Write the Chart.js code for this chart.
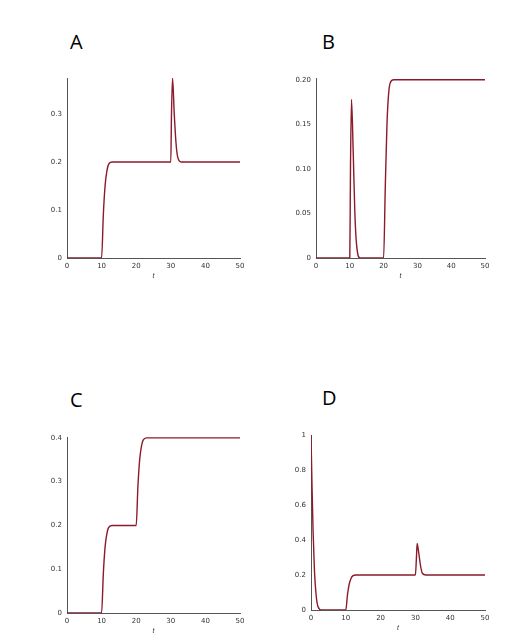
<!DOCTYPE html><html><head><meta charset="utf-8">
<script src="https://cdn.jsdelivr.net/npm/chart.js@4"></script>
<style>body{margin:0;background:#fff;width:524px;height:638px;position:relative;overflow:hidden;font-family:"DejaVu Sans",sans-serif}
canvas{position:absolute}.lbl{position:absolute;font-size:20px;color:#000;font-family:"Open Sans",sans-serif}</style></head><body>
<div class="lbl" style="left:70px;top:28px">A</div>
<div class="lbl" style="left:322px;top:28px">B</div>
<div class="lbl" style="left:70px;top:386px">C</div>
<div class="lbl" style="left:322px;top:384px">D</div>
<canvas id="cA" style="left:40px;top:70px;width:210px;height:210px"></canvas>
<canvas id="cB" style="left:290px;top:70px;width:205px;height:210px"></canvas>
<canvas id="cC" style="left:40px;top:428px;width:210px;height:207px"></canvas>
<canvas id="cD" style="left:285px;top:426px;width:210px;height:206px"></canvas>
<script>
const tA=[0,10,10.5,11,11.5,12,13,30,30.2,30.5,31,31.5,32,33,50];
const yA=[0,0,0.09,0.15,0.18,0.195,0.2,0.2,0.3,0.375,0.3,0.24,0.21,0.2,0.2];
const tB=[0,10,10.2,10.5,11,11.5,12,13,20,20.5,21,21.5,22,23,50];
const yB=[0,0,0.1,0.178,0.12,0.05,0.015,0,0,0.08,0.15,0.185,0.197,0.2,0.2];
const tC=[0,10,10.5,11,11.5,12,13,20,20.5,21,21.5,22,23,50];
const yC=[0,0,0.09,0.15,0.18,0.195,0.2,0.2,0.29,0.35,0.38,0.395,0.4,0.4];
const tD=[0,0.3,0.6,1,1.5,2,3,10,10.5,11,11.5,12,13,30,30.3,30.5,31,31.5,32,33,50];
const yD=[1,0.7,0.45,0.22,0.08,0.02,0,0,0.09,0.15,0.18,0.195,0.2,0.2,0.3,0.38,0.32,0.25,0.21,0.2,0.2];
const xTicks=[0,10,20,30,40,50];
const yTicksA=[0,0.1,0.2,0.3], yTicksB=[0,0.05,0.1,0.15,0.2], yTicksC=[0,0.1,0.2,0.3,0.4], yTicksD=[0,0.2,0.4,0.6,0.8,1];
function mk(id,t,y,ymax,yt,yw,top,right,fmt){
 const tf={size:7,family:"DejaVu Sans"};
 new Chart(document.getElementById(id),{type:'line',
  data:{datasets:[{data:t.map((v,i)=>({x:v,y:y[i]})),borderColor:'#8b1a2a',borderWidth:1.4,pointRadius:0,tension:0.3,cubicInterpolationMode:'monotone'}]},
  options:{responsive:false,animation:false,events:[],plugins:{legend:{display:false},tooltip:{enabled:false}},
   layout:{padding:{top:top,right:right,left:0,bottom:0}},
   scales:{
    x:{type:'linear',min:0,max:50,afterBuildTicks:a=>{a.ticks=xTicks.map(v=>({value:v}))},
     afterFit:a=>{a.height=22},grid:{display:false,drawTicks:true,tickLength:3,color:'#555'},border:{color:'#555'},
     ticks:{font:tf,color:'#333',padding:1,maxRotation:0},title:{display:true,text:'t',font:{size:7,style:'italic'},color:'#333',padding:0}},
    y:{type:'linear',min:0,max:ymax,afterBuildTicks:a=>{a.ticks=yt.map(v=>({value:v}))},
     afterFit:a=>{a.width=yw},grid:{display:false,drawTicks:true,tickLength:3,color:'#555'},border:{color:'#555'},
     ticks:{font:tf,color:'#333',padding:2,callback:fmt}}}}});
}
const f1=v=>v===0?'0':v.toFixed(1), f2=v=>v===0?'0':v.toFixed(2), fd=v=>v===0?'0':(v===1?'1':v.toFixed(1));
mk('cA',tA,yA,0.375,yTicksA,27,8,10,f1);
mk('cB',tB,yB,0.202,yTicksB,26,8,10,f2);
mk('cC',tC,yC,0.402,yTicksC,27,9,10,f1);
mk('cD',tD,yD,1,yTicksD,26,9,10,fd);
</script></body></html>
